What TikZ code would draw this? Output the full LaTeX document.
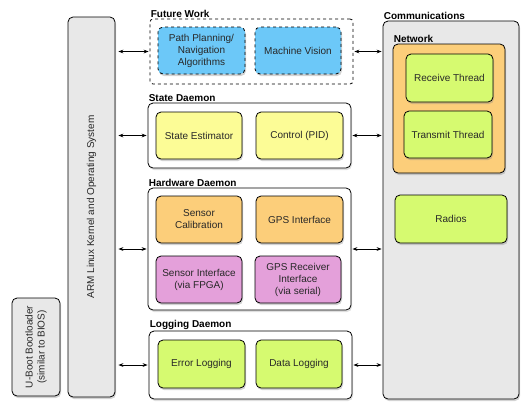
\documentclass[tikz,border=0pt]{standalone}
\usepackage{fontspec}
\setmainfont{Liberation Sans}
\usetikzlibrary{arrows.meta,shadows}

\definecolor{osgray}{RGB}{232,232,232}
\definecolor{fwblue}{RGB}{108,200,248}
\definecolor{stateyellow}{RGB}{252,252,150}
\definecolor{hworange}{RGB}{252,206,122}
\definecolor{hwpink}{RGB}{228,160,218}
\definecolor{loggreen}{RGB}{214,250,112}
\definecolor{boxtext}{RGB}{40,40,40}

\begin{document}
\begin{tikzpicture}[x = 1pt, y = -1pt,
                    font = \fontsize{10}{12}\selectfont]
     \tikzset{base/.style    = {draw, rounded corners = 5pt, line width = 0.8pt,
                                align = center, text = boxtext, inner sep = 2pt,
                                drop shadow = {shadow xshift = 1pt,
                                               shadow yshift = -2pt,
                                               opacity = 0.35}},
              block/.style   = {base, minimum width = #1},
              holder/.style  = {draw, rounded corners = 5pt, line width = 0.8pt,
                                fill = white,
                                drop shadow = {shadow xshift = 1pt,
                                               shadow yshift = -2pt,
                                               opacity = 0.25}},
              title/.style   = {anchor = south west, inner sep = 1pt,
                                font = \fontsize{10}{12}\selectfont\bfseries},
              link/.style    = {{Stealth[length = 5pt]}-{Stealth[length = 5pt]},
                                line width = 1pt}}
     \useasboundingbox (0,0) rectangle (532,416);

     % system on the left
     \node[base, fill = osgray, minimum width = 47pt, minimum height = 380pt]
          (arm) at (91.5,207) {};
     \node[rotate = 90, text = boxtext] at (arm.center)
          {ARM Linux Kernel and Operating System};
     \node[base, fill = osgray, minimum width = 48pt, minimum height = 98pt]
          (uboot) at (36,347) {};
     \node[rotate = 90, text = boxtext, align = center] at (uboot.center)
          {U-Boot Bootloader\\(similar to BIOS)};

     % the daemons
     \node[draw, dashed, rounded corners = 3pt, line width = 0.8pt,
           minimum width = 203pt, minimum height = 65pt]
          (future) at (251.5,51.5) {};
     \node[title] at (future.north west) {Future Work};
     \node[holder, minimum width = 203pt, minimum height = 65pt]
          (state) at (249.5,135.5) {};
     \node[title] at (state.north west) {State Daemon};
     \node[holder, minimum width = 203pt, minimum height = 122pt]
          (hardware) at (249.5,249) {};
     \node[title] at (hardware.north west) {Hardware Daemon};
     \node[holder, minimum width = 203pt, minimum height = 68pt]
          (logging) at (250.5,365) {};
     \node[title] at (logging.north west) {Logging Daemon};

     \tikzset{block/.append style = {minimum height = 47pt}}
     \node[block = 87pt, fill = fwblue, dashed] (path) at (201.5,50.5)
          {Path Planning/\\Navigation\\Algorithms};
     \node[block = 86pt, fill = fwblue, dashed] (vision) at (298,50.5)
          {Machine Vision};
     \node[block = 86pt, fill = stateyellow] (estimator) at (199,135.5)
          {State Estimator};
     \node[block = 87pt, fill = stateyellow] (control) at (299.5,135.5)
          {Control (PID)};
     \node[block = 86pt, fill = hworange] (calib) at (199,219.5)
          {Sensor\\Calibration};
     \node[block = 87pt, fill = hworange] (gps) at (299.5,219.5)
          {GPS Interface};
     \node[block = 86pt, fill = hwpink] (sensorif) at (199,279.5)
          {Sensor Interface\\(via FPGA)};
     \node[block = 86pt, fill = hwpink] (gpsrx) at (298,279.5)
          {GPS Receiver\\Interface\\(via serial)};
     \node[block = 87pt, fill = loggreen, minimum height = 48pt]
          (errlog) at (201.5,364) {Error Logging};
     \node[block = 86pt, fill = loggreen, minimum height = 48pt]
          (datalog) at (299,364) {Data Logging};

     % communications on the right
     \node[base, fill = osgray, minimum width = 136pt, minimum height = 378pt]
          (comm) at (451,210) {};
     \node[title] at (comm.north west) {Communications};
     \node[base, fill = hworange, minimum width = 112pt, minimum height = 129pt]
          (network) at (449,108.5) {};
     \node[title] at (network.north west) {Network};
     \node[block = 87pt, fill = loggreen, minimum height = 48pt]
          (receive) at (449.5,78) {Receive Thread};
     \node[block = 88pt, fill = loggreen] (transmit) at (448,134.5)
          {Transmit Thread};
     \node[block = 112pt, fill = loggreen, minimum height = 48pt]
          (radios) at (451,219) {Radios};

     % links
     \foreach \daemon in {future,state,hardware,logging}{
          \draw[link, shorten <= 3pt, shorten >= 1pt]
               (arm.east |- \daemon.west) -- (\daemon.west);
          \draw[link, shorten <= 1pt, shorten >= 1pt]
               (\daemon.east) -- (comm.west |- \daemon.east);
     }
\end{tikzpicture}
\end{document}
